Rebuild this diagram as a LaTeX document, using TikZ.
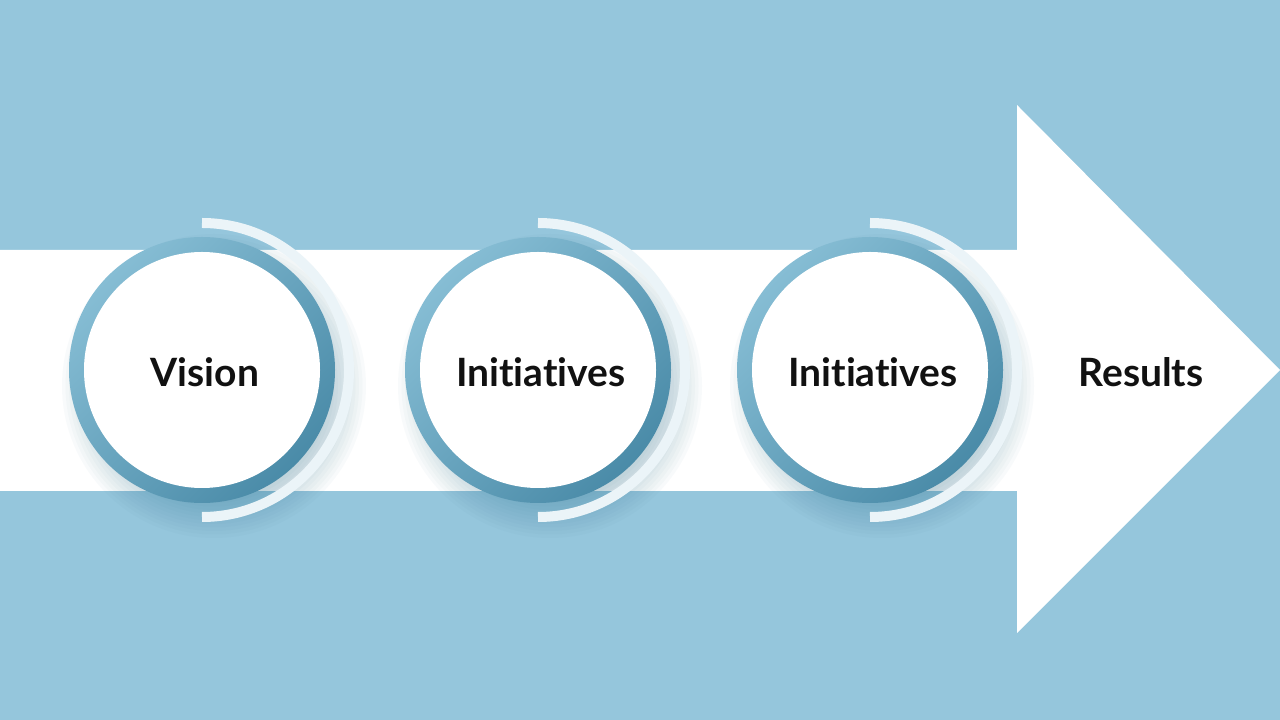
\documentclass[tikz,border=0pt]{standalone}
\usepackage{fontspec}
\setmainfont{Lato}[Ligatures=NoCommon]
\definecolor{bg}{HTML}{95C6DC}
\definecolor{ringL}{HTML}{86BDD4}
\definecolor{ringD}{HTML}{4A8BA8}
\definecolor{arcC}{HTML}{EBF4F8}
\definecolor{shad}{HTML}{3D7B97}
\definecolor{txt}{HTML}{111111}
\tikzset{
  lbl/.style={font=\fontsize{39}{44}\selectfont\bfseries, text=txt, inner sep=0pt},
  disc/.style={circle, fill=white, minimum size=236pt, inner sep=0pt},
}
\begin{document}
\begin{tikzpicture}[x=1pt,y=1pt]
\useasboundingbox (0,0) rectangle (1280,720);
\fill[bg] (0,0) rectangle (1280,720);
% arrow
\fill[white] (0,470) -- (1017,470) -- (1017,615) -- (1280,350) -- (1017,87) -- (1017,229) -- (0,229) -- cycle;
\foreach \cx/\lab/\nm in {202/Vision/c1, 538/Initiatives/c2, 870/Initiatives/c3}{
  % soft shadow
  \foreach \k in {0,...,11}
    \fill[shad, fill opacity=0.03] (\cx+12,334) circle ({152-\k*3.5});
  % outer light arc
  \draw[arcC, line width=10pt] (\cx,497) arc (90:-90:147);
  % blue ring
  \shade[top color=ringL, bottom color=ringD, shading angle=45] (\cx,350) circle (133);
  % white disc with label
  \node[disc] (\nm) at (\cx,350) {};
  \node[lbl] (\nm t) at (\cx+3,348) {\lab};
}
\node[lbl] (res) at (1141,348) {Results};
\end{tikzpicture}
\end{document}
